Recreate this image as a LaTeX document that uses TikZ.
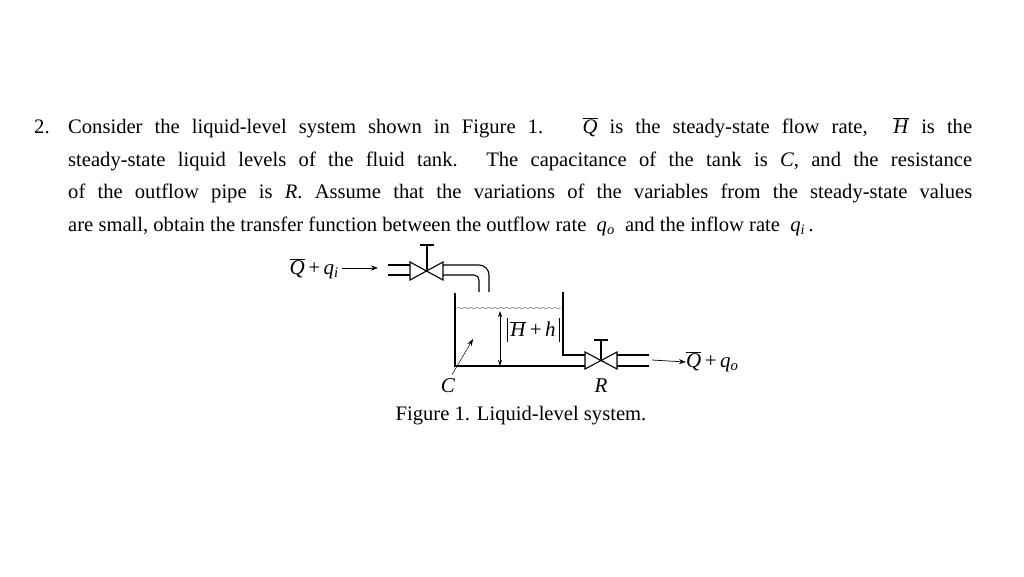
\documentclass[tikz,border=0pt]{standalone}
\usepackage{fontspec}
\setmainfont{Liberation Serif}
\usetikzlibrary{decorations.pathmorphing,arrows.meta}
\newcommand{\Qb}{$\overline{\mbox{\textit{Q}}}$}
\newcommand{\Hb}{$\overline{\mbox{\textit{H}}}$}
\newcommand{\vq}[1]{\textit{q}\textsubscript{\textit{#1}}}
\begin{document}
\begin{tikzpicture}[x=1pt,y=-1pt,
  txt/.style={anchor=base west,inner sep=0,font=\fontsize{20.6}{22}\selectfont},
  lab/.style={inner sep=0,font=\fontsize{21}{24}\selectfont},
  pipe/.style={line width=1.1pt},
  arr/.style={-{Stealth[length=7pt,width=5pt]},line width=0.7pt}]
\useasboundingbox (0,0) rectangle (1024,576);
% paragraph
\node[txt] (n2) at (34,133) {2.};
\node[txt] (l1) at (68,133) {\makebox[904pt][s]{Consider the liquid-level system shown in Figure 1. \ \Qb\ is the steady-state flow rate, \ \Hb\ is the}};
\node[txt] (l2) at (68,166) {\makebox[904pt][s]{steady-state liquid levels of the fluid tank. The capacitance of the tank is \textit{C}, and the resistance}};
\node[txt] (l3) at (68,198) {\makebox[904pt][s]{of the outflow pipe is \textit{R}. Assume that the variations of the variables from the steady-state values}};
\node[txt] (l4) at (68,231) {are small, obtain the transfer function between the outflow rate \ \vq{o} \ and the inflow rate \ \vq{i}\,.};
% inlet
\node[lab,anchor=east] (qi) at (339,269) {\Qb\,+\,\vq{i}};
\coordinate (a1) at (378,268);
\draw[arr] (qi.east) ++(3,-1) -- (a1);
\draw[pipe] (388,265) -- (410,265) (388,275) -- (410,275);
\draw[pipe] (410,262) -- (410,280) -- (443,262) -- (443,280) -- cycle;
\draw[pipe] (427,271) -- (427,245) (420,245) -- (434,245);
\draw[pipe] (443,265) -- (479,265) arc[start angle=-90,end angle=0,radius=10] -- (489,292);
\draw[pipe] (443,275) -- (474,275) arc[start angle=-90,end angle=0,radius=5] -- (479,292);
% tank
\draw[pipe] (455,293) -- (455,366) -- (585,366);
\draw[pipe] (563,292) -- (563,355) -- (585,355);
\draw[gray,line width=0.6pt,decorate,decoration={snake,amplitude=0.6pt,segment length=6pt}] (457,308) -- (561,308);
\draw[{Stealth[length=6pt,width=4pt]}-{Stealth[length=6pt,width=4pt]},line width=0.7pt] (500,311) -- (500,366);
\node[lab] (hh) at (533,329) {\Hb\,+\,\textit{h}};
\draw[line width=0.7pt] (507,318) -- (507,342) (559,318) -- (559,342);
% outlet valve
\draw[pipe] (585,352) -- (585,369) -- (617,352) -- (617,369) -- cycle;
\draw[pipe] (601,360) -- (601,340) (594,340) -- (608,340);
\draw[pipe] (617,355) -- (649,355) (617,366) -- (649,366);
\node[lab,anchor=west] (qo) at (686,362) {\Qb\,+\,\vq{o}};
\coordinate (a2) at (652,360);
\draw[arr] (a2) -- (qo.west);
% labels
\node[lab] (C) at (448,386) {\textit{C}};
\coordinate (c2) at (473,339);
\draw[arr,line width=0.5pt] (C.north) ++(4,-4) -- (c2);
\node[lab] (R) at (601,386) {\textit{R}};
\node[lab,font=\fontsize{20.6}{22}\selectfont] (cap) at (521,416) {Figure 1. Liquid-level system.};
\end{tikzpicture}
\end{document}
